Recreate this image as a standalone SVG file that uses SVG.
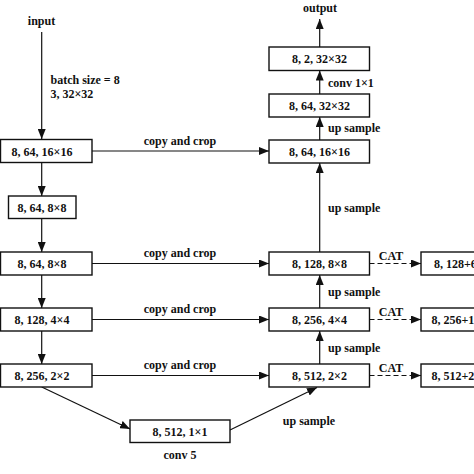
<svg xmlns="http://www.w3.org/2000/svg" width="474" height="474" viewBox="0 0 474 474">
<style>
text{font-family:"Liberation Serif","DejaVu Serif",serif;font-size:12px;font-weight:bold;fill:#111}
.c{text-anchor:middle}
.box{fill:#fff;stroke:#111;stroke-width:1.4}
.ln{stroke:#111;stroke-width:1.2;fill:none}
.dash{stroke:#111;stroke-width:1.2;fill:none;stroke-dasharray:5,3}
</style>
<defs>
<marker id="ah" viewBox="0 0 10 8" refX="10" refY="4" markerWidth="10" markerHeight="8" markerUnits="userSpaceOnUse" orient="auto">
<path d="M0,0L10,4L0,8z" fill="#111"/>
</marker>
</defs>
<rect width="474" height="474" fill="#fff"/>
<g id="connectors">
<line class="ln" x1="41.7" y1="32" x2="41.7" y2="139" marker-end="url(#ah)"/>
<line class="ln" x1="41.7" y1="163" x2="41.7" y2="196" marker-end="url(#ah)"/>
<line class="ln" x1="41.7" y1="218" x2="41.7" y2="252" marker-end="url(#ah)"/>
<line class="ln" x1="41.7" y1="275" x2="41.7" y2="308" marker-end="url(#ah)"/>
<line class="ln" x1="41.7" y1="331" x2="41.7" y2="364" marker-end="url(#ah)"/>
<line class="ln" x1="41.7" y1="387" x2="130" y2="429" marker-end="url(#ah)"/>
<line class="ln" x1="230" y1="430" x2="317" y2="387.5" marker-end="url(#ah)"/>
<line class="ln" x1="92" y1="151" x2="269" y2="151" marker-end="url(#ah)"/>
<line class="ln" x1="92" y1="263.5" x2="269" y2="263.5" marker-end="url(#ah)"/>
<line class="ln" x1="92" y1="319.5" x2="269" y2="319.5" marker-end="url(#ah)"/>
<line class="ln" x1="92" y1="375.5" x2="269" y2="375.5" marker-end="url(#ah)"/>
<line class="ln" x1="319.7" y1="364" x2="319.7" y2="331" marker-end="url(#ah)"/>
<line class="ln" x1="319.7" y1="308" x2="319.7" y2="275" marker-end="url(#ah)"/>
<line class="ln" x1="319.7" y1="252" x2="319.7" y2="163" marker-end="url(#ah)"/>
<line class="ln" x1="319.7" y1="140" x2="319.7" y2="117" marker-end="url(#ah)"/>
<line class="ln" x1="319.7" y1="94" x2="319.7" y2="70.5" marker-end="url(#ah)"/>
<line class="ln" x1="319.7" y1="47" x2="319.7" y2="19" marker-end="url(#ah)"/>
<line class="dash" x1="369.5" y1="263.5" x2="421" y2="263.5" marker-end="url(#ah)"/>
<line class="dash" x1="369.5" y1="319.5" x2="421" y2="319.5" marker-end="url(#ah)"/>
<line class="dash" x1="369.5" y1="375.5" x2="421" y2="375.5" marker-end="url(#ah)"/>
</g>
<g id="labels">
<text class="c" x="41.5" y="25">input</text>
<text x="50.5" y="84">batch size = 8</text>
<text x="50.5" y="98">3, 32×32</text>
<text class="c" x="180" y="145">copy and crop</text>
<text class="c" x="180" y="257">copy and crop</text>
<text class="c" x="180" y="313">copy and crop</text>
<text class="c" x="180" y="369">copy and crop</text>
<text class="c" x="320" y="12">output</text>
<text x="328" y="87">conv 1×1</text>
<text x="328" y="132">up sample</text>
<text x="328" y="212">up sample</text>
<text x="328" y="296">up sample</text>
<text x="328" y="352">up sample</text>
<text class="c" x="309" y="424.5">up sample</text>
<text class="c" x="180" y="458.5">conv 5</text>
<text class="c" x="391" y="259.5">CAT</text>
<text class="c" x="391" y="315.5">CAT</text>
<text class="c" x="391" y="371.5">CAT</text>
</g>
<g id="n1"><rect class="box" x="0.5" y="139.5" width="91.5" height="23"/><text class="c" x="42" y="155.5">8, 64, 16×16</text></g>
<g id="n2"><rect class="box" x="8.5" y="196" width="67.5" height="22.5"/><text class="c" x="42" y="211.5">8, 64, 8×8</text></g>
<g id="n3"><rect class="box" x="0.5" y="252" width="91.5" height="23"/><text class="c" x="42" y="268">8, 64, 8×8</text></g>
<g id="n4"><rect class="box" x="0.5" y="308" width="91.5" height="23"/><text class="c" x="42" y="324">8, 128, 4×4</text></g>
<g id="n5"><rect class="box" x="0.5" y="364" width="91.5" height="23"/><text class="c" x="42" y="380">8, 256, 2×2</text></g>
<g id="n6"><rect class="box" x="130" y="420" width="100" height="22.5"/><text class="c" x="180" y="435.5">8, 512, 1×1</text></g>
<g id="n7"><rect class="box" x="269" y="47" width="100.5" height="23.5"/><text class="c" x="319.5" y="63">8, 2, 32×32</text></g>
<g id="n8"><rect class="box" x="269" y="94" width="100.5" height="23"/><text class="c" x="319.5" y="110">8, 64, 32×32</text></g>
<g id="n9"><rect class="box" x="269" y="140" width="100.5" height="23"/><text class="c" x="319.5" y="156">8, 64, 16×16</text></g>
<g id="n10"><rect class="box" x="269" y="252" width="100.5" height="23"/><text class="c" x="319.5" y="268">8, 128, 8×8</text></g>
<g id="n11"><rect class="box" x="269" y="308" width="100.5" height="23"/><text class="c" x="319.5" y="324">8, 256, 4×4</text></g>
<g id="n12"><rect class="box" x="269" y="364" width="100.5" height="23"/><text class="c" x="319.5" y="380">8, 512, 2×2</text></g>
<g id="n13"><rect class="box" x="421" y="252" width="100" height="23"/><text x="434" y="268">8, 128+64, 8×8</text></g>
<g id="n14"><rect class="box" x="421" y="308" width="100" height="23"/><text x="431.5" y="324">8, 256+128, 4×4</text></g>
<g id="n15"><rect class="box" x="421" y="364" width="100" height="23"/><text x="431.5" y="380">8, 512+256, 2×2</text></g>
</svg>
